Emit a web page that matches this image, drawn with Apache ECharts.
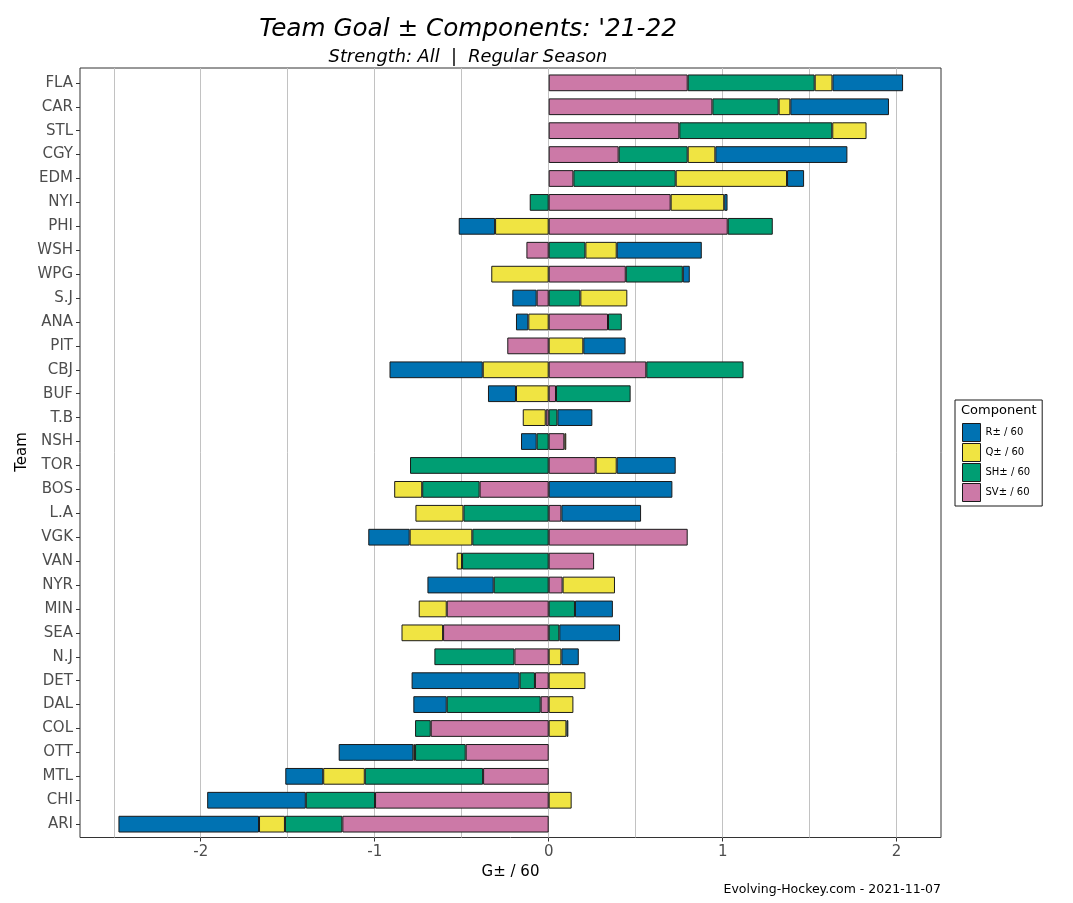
<!DOCTYPE html>
<html>
<head>
<meta charset="utf-8">
<script src="https://cdn.jsdelivr.net/npm/echarts@6/dist/echarts.min.js"></script>
<style>html,body{margin:0;padding:0;background:#fff;}#c{width:1073px;height:903px;}</style>
</head>
<body>
<div id="c"></div>
<script>
const teams = ['FLA','CAR','STL','CGY','EDM','NYI','PHI','WSH','WPG','S.J','ANA','PIT','CBJ','BUF','T.B','NSH','TOR','BOS','L.A','VGK','VAN','NYR','MIN','SEA','N.J','DET','DAL','COL','OTT','MTL','CHI','ARI'];
const svVals = [0.799,0.941,0.751,0.402,0.142,0.701,1.029,-0.128,0.443,-0.069,0.341,-0.238,0.561,0.042,-0.017,0.090,0.270,-0.397,0.073,0.799,0.261,0.080,-0.586,-0.607,-0.197,-0.079,-0.046,-0.678,-0.477,-0.377,-0.998,-1.186];
const shVals = [0.730,0.381,0.879,0.397,0.588,-0.109,0.259,0.211,0.328,0.182,0.079,null,0.559,0.429,0.050,-0.069,-0.797,-0.330,-0.490,-0.439,-0.498,-0.316,0.151,0.061,-0.460,-0.088,-0.540,-0.090,-0.291,-0.680,-0.398,-0.330];
const qVals  = [0.102,0.067,0.197,0.159,0.640,0.308,-0.308,0.180,-0.330,0.270,-0.117,0.199,-0.379,-0.188,-0.132,0.011,0.121,-0.161,-0.276,-0.360,-0.031,0.301,-0.161,-0.239,0.073,0.211,0.142,0.102,-0.010,-0.239,0.132,-0.149];
const rVals  = [0.406,0.567,null,0.759,0.098,0.019,-0.209,0.489,0.040,-0.140,-0.071,0.243,-0.536,-0.161,0.201,-0.090,0.339,0.711,0.458,-0.238,null,-0.381,0.218,0.349,0.100,-0.621,-0.192,0.011,-0.429,-0.218,-0.567,-0.808];
const xTicks = [-2,-1,0,1,2];
const gridVals = [-2.5,-2,-1.5,-1,-0.5,0,0.5,1,1.5,2];

const names = {r:'R± / 60', q:'Q± / 60', sh:'SH± / 60', sv:'SV± / 60'};
const colors = {r:'#0072B2', q:'#F0E442', sh:'#009E73', sv:'#CC79A7'};
const FONT = '"DejaVu Sans", sans-serif';
const XMIN = -2.694, XMAX = 2.255;

// panel: top 68, bottom edge 837.5 ; discrete expansion 0.6 of a category on each side
const PTOP = 68, PBOT = 837.5, H = 903;
const unit = (PBOT - PTOP) / (teams.length + 0.2);
const catTop = PTOP + 0.1 * unit + 0.5, catBot = PBOT - 0.1 * unit + 1;

function barSeries(key, vals) {
  return {
    name: names[key], type: 'bar', stack: 'total', data: vals,
    xAxisIndex: 0, yAxisIndex: 0,
    barWidth: '70%',
    itemStyle: {color: colors[key], borderColor: '#1a1a1a', borderWidth: 1},
    emphasis: {disabled: true}, z: 3
  };
}

const chart = echarts.init(document.getElementById('c'), null, {renderer: 'canvas'});
chart.setOption({
  animation: false,
  backgroundColor: '#fff',
  textStyle: {fontFamily: FONT},
  grid: [
    {left: 80, right: 132, top: catTop, bottom: H - catBot, show: false},
    {left: 80, right: 132, top: PTOP, bottom: H - PBOT, show: true, borderColor: '#333', borderWidth: 1, backgroundColor: 'transparent'}
  ],
  xAxis: [
    {gridIndex: 0, type: 'value', min: XMIN, max: XMAX, show: false},
    {
      gridIndex: 1, type: 'value', min: XMIN, max: XMAX,
      name: 'G± / 60', nameLocation: 'middle', nameGap: 24,
      nameTextStyle: {color: '#000', fontSize: 15, fontFamily: FONT},
      axisLine: {show: false},
      axisTick: {show: true, length: 4, lineStyle: {color: '#333'}, customValues: xTicks},
      axisLabel: {color: '#4d4d4d', fontSize: 15, margin: 7, fontFamily: FONT, customValues: xTicks},
      splitLine: {show: false}
    }
  ],
  yAxis: [
    {
      gridIndex: 0, type: 'category', data: teams, inverse: true,
      axisLine: {show: false, onZero: false},
      axisTick: {show: true, length: 4, alignWithLabel: true, lineStyle: {color: '#333'}},
      axisLabel: {color: '#4d4d4d', fontSize: 15, margin: 7, fontFamily: FONT},
      splitLine: {show: false}
    },
    {gridIndex: 1, type: 'value', min: 0, max: 1, show: false}
  ],
  legend: {
    orient: 'vertical', left: 955, top: 400,
    data: [names.r, names.q, names.sh, names.sv],
    itemWidth: 18, itemHeight: 18, itemGap: 1,
    padding: [23, 12, 4, 7],
    borderColor: '#1a1a1a', borderWidth: 1,
    icon: 'rect',
    itemStyle: {borderWidth: 1, borderColor: '#1a1a1a'},
    textStyle: {fontSize: 10, color: '#000', fontFamily: FONT}
  },
  graphic: [
    {type: 'text', x: 22, y: 452, rotation: Math.PI / 2,
     style: {text: 'Team', font: '15px ' + FONT, fill: '#000', textAlign: 'center', textVerticalAlign: 'middle'}},
    {type: 'text', left: 961, top: 404, style: {text: 'Component', font: '13px ' + FONT, fill: '#000'}},
    {type: 'text', right: 132, top: 883, style: {text: 'Evolving-Hockey.com - 2021-11-07', font: '12.5px ' + FONT, fill: '#000', textAlign: 'right'}}
  ],
  title: [
    {text: "Team Goal ± Components: '21-22", left: 463, top: 12, textAlign: 'center',
     textStyle: {fontSize: 24.7, fontStyle: 'italic', fontWeight: 'normal', color: '#000', fontFamily: FONT}},
    {text: 'Strength: All  |  Regular Season', left: 463, top: 43, textAlign: 'center',
     textStyle: {fontSize: 17.8, fontStyle: 'italic', fontWeight: 'normal', color: '#000', fontFamily: FONT}}
  ],
  series: [
    {
      type: 'scatter', xAxisIndex: 1, yAxisIndex: 1, data: [[0, 0.5]], symbolSize: 0,
      silent: true, z: 1, legendHoverLink: false, tooltip: {show: false},
      markLine: {
        silent: true, symbol: 'none', z: 1, animation: false,
        label: {show: false}, emphasis: {disabled: true},
        lineStyle: {color: '#c2c2c2', width: 1, type: 'solid'},
        data: gridVals.map(v => ({xAxis: v}))
      }
    },
    barSeries('sv', svVals),
    barSeries('sh', shVals),
    barSeries('q', qVals),
    barSeries('r', rVals)
  ]
});
</script>
</body>
</html>
